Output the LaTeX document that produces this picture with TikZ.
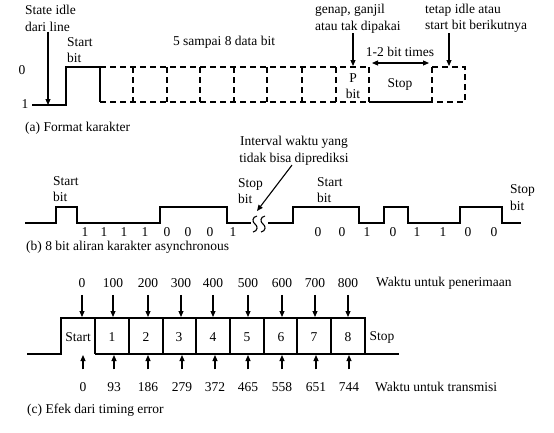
\documentclass[tikz,border=0pt]{standalone}
\usepackage{fontspec}
\setmainfont{Liberation Serif}
\usetikzlibrary{arrows.meta}

\tikzset{
  wave/.style={line width=1.1pt},
  dashwave/.style={wave, dash pattern=on 6pt off 4pt},
  lbl/.style={inner sep=0pt, font=\fontsize{13.5}{16.5}\selectfont},
  ptr/.style={line width=1.1pt, -{Triangle[length=6pt,width=5pt]}},
  dptr/.style={line width=1.1pt, {Triangle[length=6pt,width=5pt]}-{Triangle[length=6pt,width=5pt]}}
}

\begin{document}
\begin{tikzpicture}[x=1pt,y=-1pt]
  \useasboundingbox (0,0) rectangle (554,432);

  % (a)
  \node[lbl, align=left, anchor=west] (idle) at (25,18.5) {State idle\\dari line};
  \node[lbl] (lvlzero) at (22,70) {0};
  \node[lbl] (lvlone) at (25,104) {1};
  \node[lbl, align=left, anchor=west] (starta) at (67,50) {Start\\bit};
  \node[lbl] (data) at (224,42) {5 sampai 8 data bit};
  \node[lbl, align=left, anchor=west] (parity) at (315,18.5) {genap, ganjil\\atau tak dipakai};
  \node[lbl, align=center] (pbit) at (353,86) {P\\bit};
  \node[lbl] (times) at (400,52) {1-2 bit times};
  \node[lbl] (stopa) at (400,84) {Stop};
  \node[lbl, align=left, anchor=west] (next) at (425,18.5) {tetap idle atau\\start bit berikutnya};
  \node[lbl, anchor=west] (capa) at (25,128) {(a) Format karakter};
  \coordinate (idleend) at (48,105);
  \coordinate (parend) at (353,66);
  \coordinate (nextend) at (449,66);
  \coordinate (tleft) at (372,63);
  \coordinate (tright) at (429,63);

  \draw[wave] (32,105) -- (66,105) -- (66,67) -- (100,67) -- (100,102);
  \draw[dashwave] (100,67) -- (369,67);
  \draw[dashwave] (100,102) -- (369,102);
  \foreach \x in {133,167,200,234,267,302,336,369}
    \draw[dashwave] (\x,67) -- (\x,102);
  \draw[wave] (369,102) -- (432,102);
  \draw[dashwave] (432,67) rectangle (465,102);
  \draw[ptr] (idle.south -| idleend) -- (idleend);
  \draw[ptr] (parity.south -| parend) -- (parend);
  \draw[ptr] (next.south -| nextend) -- (nextend);
  \draw[dptr] (tleft) -- (tright);

  % (b)
  \node[lbl, align=left, anchor=west] (startb) at (53,189) {Start\\bit};
  \node[lbl, align=left, anchor=west] (stopb) at (238,191) {Stop\\bit};
  \node[lbl, align=left, anchor=west] (startc) at (317,190) {Start\\bit};
  \node[lbl, align=left, anchor=west] (stopc) at (510,197.5) {Stop\\bit};
  \node[lbl, align=center] (interval) at (294,150.5) {Interval waktu yang\\tidak bisa diprediksi};
  \node[lbl, anchor=west] (capb) at (26,247) {(b) 8 bit aliran karakter asynchronous};
  \coordinate (gap) at (257,211);

  \draw[wave] (25,223) -- (56,223) -- (56,207) -- (77,207) -- (77,223) -- (160,223)
    -- (160,207) -- (227,207) -- (227,223) -- (251,223);
  \draw[wave] (268,223) -- (293,223) -- (293,207) -- (359,207) -- (359,223) -- (384,223)
    -- (384,207) -- (408,207) -- (408,223) -- (460,223) -- (460,207) -- (502,207)
    -- (502,223) -- (521,223);
  \foreach \x in {255,263}
    \draw[wave] (\x+2,216) .. controls (\x-3,217) and (\x-3,222) .. (\x,224)
      .. controls (\x+3,226) and (\x+3,231) .. (\x-2,232);
  \draw[ptr] ([xshift=-2pt]interval.south) -- (gap);
  \foreach \x/\b [count=\i] in {85/1,104/1,124/1,145/1,167/0,188/0,210/0,233/1,
      318/0,342/0,367/1,393/0,417/1,443/1,468/0,494/0}
    \node[lbl] (bit\i) at (\x,232) {\b};

  % (c)
  \draw[wave] (27,354) -- (61,354) -- (61,318) -- (365,318) -- (365,354);
  \draw[wave] (95,354) -- (399,354);
  \foreach \x in {95,129,163,196,230,264,297,331}
    \draw[wave] (\x,318) -- (\x,354);
  \foreach \x/\t [count=\i] in {78/Start,112/1,146/2,179/3,213/4,247/5,281/6,314/7,348/8}
    \node[lbl] (cell\i) at (\x,337) {\t};
  \node[lbl] (stopd) at (382,337) {Stop};
  \foreach \x/\t [count=\i] in {82/0,113/100,148/200,181/300,213/400,248/500,282/600,315/700,348/800} {
    \node[lbl] (rx\i) at (\x,283) {\t};
    \coordinate (rxend\i) at (\x,317);
    \draw[ptr, shorten <=7pt] (rx\i.south) -- (rxend\i);
  }
  \foreach \x/\t [count=\i] in {83/0,114/93,148/186,182/279,215/372,248/465,282/558,316/651,349/744} {
    \node[lbl] (tx\i) at (\x,387) {\t};
    \coordinate (txend\i) at (\x,355);
    \draw[ptr, shorten <=13pt] (tx\i.north) -- (txend\i);
  }
  \node[lbl, anchor=west] (rxlbl) at (376,283) {Waktu untuk penerimaan};
  \node[lbl, anchor=west] (txlbl) at (375,387) {Waktu untuk transmisi};
  \node[lbl, anchor=west] (capc) at (27,410) {(c) Efek dari timing error};
\end{tikzpicture}
\end{document}
